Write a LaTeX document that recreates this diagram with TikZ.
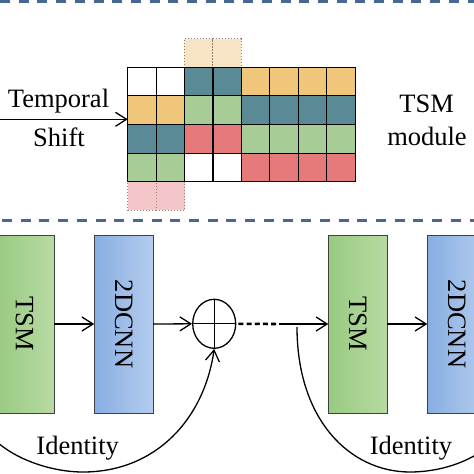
\documentclass[tikz,border=0pt]{standalone}
\usepackage{fontspec}
\setmainfont{Liberation Serif}
\usetikzlibrary{arrows.meta,shapes.geometric}
\definecolor{dashblue}{RGB}{72,104,148}
\definecolor{cteal}{RGB}{90,138,150}
\definecolor{cyel}{RGB}{240,198,122}
\definecolor{cgrn}{RGB}{168,204,150}
\definecolor{cred}{RGB}{230,122,122}
\definecolor{lyel}{RGB}{246,228,196}
\definecolor{lpink}{RGB}{244,198,202}
\definecolor{ghostline}{RGB}{150,130,110}
\definecolor{gL}{RGB}{152,202,128}
\definecolor{gR}{RGB}{184,218,164}
\definecolor{bL}{RGB}{136,174,226}
\definecolor{bR}{RGB}{180,204,238}
\begin{document}
\begin{tikzpicture}[x=1pt,y=-1pt,font=\fontsize{26.5}{30}\selectfont,
  cell/.style={draw=black,line width=1.1pt,minimum width=28.43pt,minimum height=28.6pt,inner sep=0pt,outer sep=0pt,anchor=north west},
  ghost/.style={draw=ghostline,dotted,line width=1pt,minimum width=28.43pt,minimum height=28.6pt,inner sep=0pt,outer sep=0pt,anchor=north west},
  dashline/.style={draw=dashblue,line width=3pt,dash pattern=on 10pt off 8.7pt},
  gblock/.style={draw=black!75,line width=0.9pt,minimum width=59pt,minimum height=178pt,inner sep=0pt,outer sep=0pt,left color=gL,right color=gR},
  bblock/.style={draw=black!75,line width=0.9pt,minimum width=59pt,minimum height=178pt,inner sep=0pt,outer sep=0pt,left color=bL,right color=bR},
  vtext/.style={rotate=-90,inner sep=0pt},
  arr/.style={line width=1.3pt,-{Straight Barb[length=11pt,width=14pt]}},
  curve/.style={line width=1.3pt}
]
\useasboundingbox (0,0) rectangle (474,474);
\clip (0,0) rectangle (474,474);
% dashed separators
\coordinate (topL) at (0,1.5); \coordinate (topR) at (474,1.5);
\draw[dashline] (topL) -- (topR);
\coordinate (midL) at (2,220); \coordinate (midR) at (474,220);
\draw[dashline] (midL) -- (midR);
% ghost (shifted out) cells
\node[ghost,fill=lyel] (g1) at (184.3,38.7) {};
\node[ghost,fill=lyel] (g2) at (212.73,38.7) {};
\node[ghost,fill=lpink] (g3) at (127.7,181.7) {};
\node[ghost,fill=lpink] (g4) at (156.13,181.7) {};
% grid
\foreach \row [count=\r] in {{white,white,cteal,cteal,cyel,cyel,cyel,cyel},{cyel,cyel,cgrn,cgrn,cteal,cteal,cteal,cteal},{cteal,cteal,cred,cred,cgrn,cgrn,cgrn,cgrn},{cgrn,cgrn,white,white,cred,cred,cred,cred}}{
  \foreach \c [count=\k] in \row {
    \node[cell,fill=\c] (c\r\k) at ({127.7+(\k-1)*28.43},{67.3+(\r-1)*28.6}) {};
  }
}
% temporal shift arrow and texts
\coordinate (tsL) at (-2,119.3);
\draw[arr] (tsL) -- (tsL -| c21.west);
\node[anchor=base] (temporal) at (58.5,107) {Temporal};
\node[anchor=base] (shift) at (59,146.7) {Shift};
\node[anchor=base] (tsmt) at (426.7,112.3) {TSM};
\node[anchor=base] (module) at (427,145.7) {module};
% blocks
\node[gblock] (tsmA) at (24.5,324) {};
\node[vtext] at (tsmA) {TSM};
\node[bblock] (cnnA) at (123.65,324) {};
\node[vtext] at (cnnA) {2DCNN};
\node[gblock] (tsmB) at (357.8,324) {};
\node[vtext] at (tsmB) {TSM};
\node[bblock] (cnnB) at (456.8,324) {};
\node[vtext] at (cnnB) {2DCNN};
% sum node
\node[draw,ellipse,line width=1.3pt,minimum width=43pt,minimum height=49pt,inner sep=0pt] (plus) at (214.2,323.8) {};
\draw[line width=1.3pt] (plus.north) -- (plus.south);
\draw[line width=1.3pt] (plus.west) -- (plus.east);
% connectors
\draw[arr] (tsmA.east) -- (cnnA.west);
\draw[arr] (cnnA.east) -- (plus.west);
\coordinate (dotend) at (279,324);
\draw[line width=2.6pt,dash pattern=on 5pt off 3.2pt,shorten <=2pt] (plus.east) -- (dotend);
\draw[arr] (dotend) -- (tsmB.west);
\draw[arr] (tsmB.east) -- (cnnB.west);
% identity curves
\coordinate (idA) at (-10,435);
\draw[arr] (idA) .. controls (10,458) and (50,472) .. (83,472) .. controls (155,472) and (204,420) .. (plus.south);
\coordinate (idB0) at (297,327);
\coordinate (idB1) at (490,445);
\draw[curve] (idB0) .. controls (297,420) and (350,472) .. (410,472) .. controls (440,472) and (470,462) .. (idB1);
\node[anchor=base] (idtA) at (77.7,454) {Identity};
\node[anchor=base] (idtB) at (411,454) {Identity};
\end{tikzpicture}
\end{document}
